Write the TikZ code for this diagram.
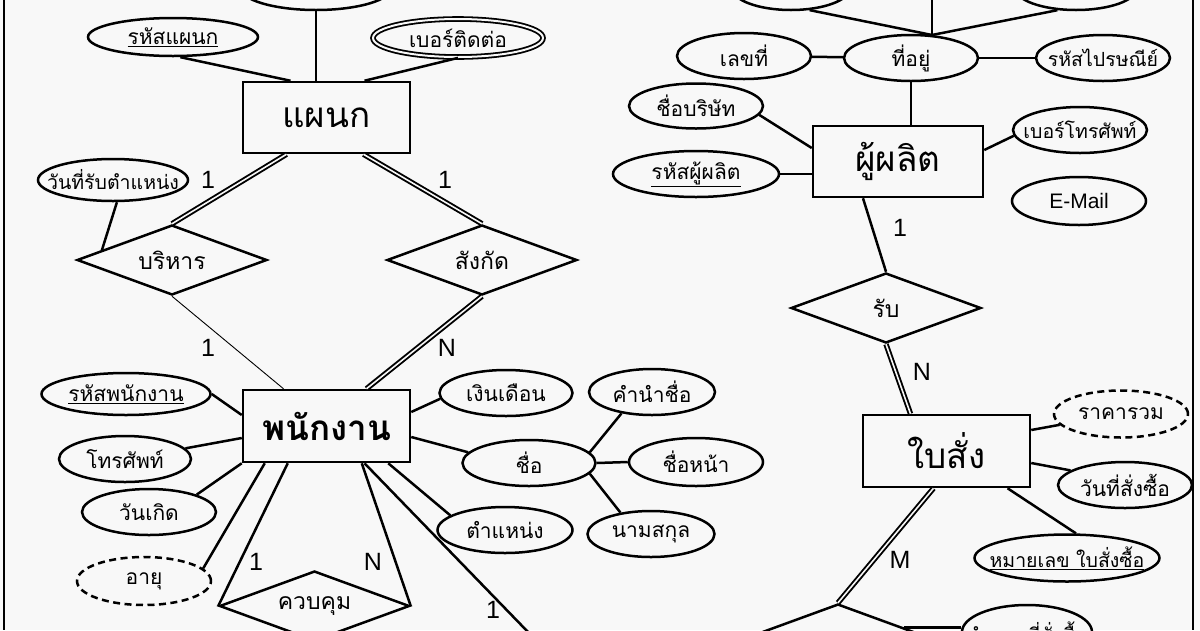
\documentclass[tikz,border=0pt]{standalone}
\usepackage{fontspec}
\newfontfamily\thai[Script=Thai]{Loma}
\newfontfamily\lat{Liberation Sans}
\usetikzlibrary{shapes.geometric}
\definecolor{bg}{RGB}{248,248,248}
\newcommand\zw[1]{\makebox[0pt]{#1}}
\begin{document}
\begin{tikzpicture}[x=1pt,y=-1pt,
  attr/.style={ellipse, draw, line width=2.5pt, inner sep=0pt, fill=bg,
    font=\thai\fontsize{21}{23}\selectfont},
  dashattr/.style={attr, dashed, dash pattern=on 7pt off 4.5pt},
  dblattr/.style={attr, double=bg, double distance=2pt, line width=1.8pt},
  ent/.style={rectangle, draw, line width=2.5pt, minimum width=167pt, minimum height=71pt,
    inner sep=0pt, fill=bg, font=\thai\fontsize{35}{40}\selectfont},
  rel/.style={diamond, draw, line width=2.5pt, inner sep=0pt, shape aspect=2.7,
    minimum width=190pt, minimum height=70pt, fill=bg, font=\thai\fontsize{23}{25}\selectfont},
  conn/.style={line width=2.5pt},
  dbl/.style={double=bg, double distance=1.6pt, line width=1.9pt},
  thinconn/.style={line width=0.9pt},
  card/.style={font=\lat\fontsize{25}{28}\selectfont, inner sep=0pt},
  frame/.style={line width=2pt}]
\useasboundingbox (0,0) rectangle (1200,630);
\clip (0,0) rectangle (1200,630);
\fill[bg] (0,0) rectangle (1200,630);

% ---------- left upper: department ----------
\node[attr, minimum width=153pt, minimum height=46pt] (topL) at (316,-13) {};
\node[attr, minimum width=170pt, minimum height=38pt] (rhs) at (173,37) {\zw{\underline{รหัสแผนก}}};
\node[dblattr, minimum width=170pt, minimum height=38pt] (tel) at (458,38) {\zw{เบอร์ติดต่อ}};
\node[ent] (dept) at (326.5,117.5) {แผนก};
\node[attr, minimum width=150pt, minimum height=42pt] (since) at (113,180) {\zw{\fontsize{19.5}{22}\selectfont วันที่รับตำแหน่ง}};
\node[rel] (manage) at (172,260) {บริหาร};
\node[rel] (belong) at (482,260) {สังกัด};

\draw[conn] (topL.south) -- (topL.south |- dept.north);
\draw[conn] (rhs.-70) -- ([xshift=-36pt]dept.north);
\draw[conn] (tel.south) -- ([xshift=38pt]dept.north);
\draw[dbl] ([xshift=-40pt]dept.south) -- (manage.north);
\draw[dbl] ([xshift=37pt]dept.south) -- (belong.north);
\draw[conn] (since.-80) -- (manage.172);
\node[card] (c1) at (208,180) {1};
\node[card] (c2) at (445,180) {1};

% ---------- employee ----------
\node[ent, font=\thai\bfseries\fontsize{35}{40}\selectfont, minimum height=72pt] (emp) at (326.5,426) {พนักงาน};
\draw[thinconn] (manage.south) -- ([xshift=-43pt]emp.north);
\draw[dbl] (belong.south) -- ([xshift=40pt]emp.north);
\node[card] (c3) at (208,348) {1};
\node[card] (c4) at (447,348) {N};

\node[attr, minimum width=169pt, minimum height=42pt] (empid) at (126,394) {\zw{\underline{รหัสพนักงาน}}};
\node[attr, minimum width=132pt, minimum height=46pt] (phone) at (125,459) {\zw{โทรศัพท์}};
\node[attr, minimum width=134pt, minimum height=46pt] (bday) at (149,512) {\zw{วันเกิด}};
\node[dashattr, minimum width=134pt, minimum height=48pt] (age) at (144,581) {\zw{อายุ}};
\node[attr, minimum width=133pt, minimum height=46pt] (salary) at (506,393) {\zw{เงินเดือน}};
\node[attr, minimum width=133pt, minimum height=46pt] (name) at (529,463) {\zw{ชื่อ}};
\node[attr, minimum width=135pt, minimum height=46pt] (pos) at (505,530) {\zw{ตำแหน่ง}};
\node[attr, minimum width=126pt, minimum height=46pt] (title) at (652,392) {\zw{คำนำชื่อ}};
\node[attr, minimum width=134pt, minimum height=48pt] (first) at (696,462) {\zw{ชื่อหน้า}};
\node[attr, minimum width=127pt, minimum height=46pt] (last) at (651,534) {\zw{นามสกุล}};

\draw[conn] (empid.east) -- ([yshift=11pt]emp.west);
\draw[conn] (phone.10) -- ([yshift=-12pt]emp.west);
\draw[conn] (bday.20) -- (emp.south west);
\draw[conn] (age.12) -- ([xshift=23pt]emp.south west);
\draw[conn] (salary.185) -- ([yshift=14pt]emp.east);
\draw[conn] (name.170) -- ([yshift=-11pt]emp.east);
\draw[conn] (pos.165) -- ([xshift=-23pt]emp.south east);
\draw[conn] (name.10) -- (title.-145);
\draw[conn] (name.east) -- (first.west);
\draw[conn] (name.-10) -- (last.145);

\node[rel] (ctrl) at (314.5,606) {ควบคุม};
\draw[conn] ([xshift=46pt]emp.south west) -- (ctrl.west);
\draw[conn] ([xshift=120pt]emp.south west) -- (ctrl.east);
\node[card] (c5) at (256,562) {1};
\node[card] (c6) at (373,562) {N};
\coordinate (offrel) at (560,665);
\draw[conn] ([xshift=38pt]emp.south) -- (offrel);
\node[card] (c7) at (493,610) {1};

% ---------- maker ----------
\node[attr, minimum width=118pt, minimum height=44pt] (topR1) at (791,-12) {};
\node[attr, minimum width=122pt, minimum height=44pt] (topR2) at (1076,-12) {};
\coordinate (topR0) at (932,-30);
\node[attr, minimum width=134pt, minimum height=46pt] (no) at (744,56) {\zw{เลขที่}};
\node[attr, minimum width=134pt, minimum height=46pt] (addr) at (911,58) {\zw{ที่อยู่}};
\node[attr, minimum width=134pt, minimum height=46pt] (zip) at (1103,58) {\zw{\fontsize{19.5}{22}\selectfont รหัสไปรษณีย์}};
\coordinate (addrtop) at (932,35);
\draw[conn] (topR0) -- (addrtop);
\draw[conn] (topR1.-50) -- (addrtop);
\draw[conn] (topR2.-130) -- (addrtop);
\draw[conn] (no) -- (addr);
\draw[conn] (addr) -- (zip);

\node[ent, minimum width=170pt] (maker) at (898,161.5) {ผู้ผลิต};
\node[attr, minimum width=134pt, minimum height=45pt] (company) at (696,106) {\zw{ชื่อบริษัท}};
\node[attr, minimum width=166pt, minimum height=46pt] (makerid) at (696,174) {\zw{\underline{รหัสผู้ผลิต}}};
\node[attr, minimum width=134pt, minimum height=46pt] (mtel) at (1080,130) {\zw{\fontsize{19.5}{22}\selectfont เบอร์โทรศัพท์}};
\node[attr, minimum width=134pt, minimum height=48pt, font=\lat\fontsize{21}{24}\selectfont] (email) at (1079,201) {\zw{E-Mail}};
\draw[conn] (addr.south) -- (addr.south |- maker.north);
\draw[conn] (company.-8) -- ([yshift=13.5pt]maker.west);
\draw[conn] (makerid.east) -- (makerid.east -| maker.west);
\draw[conn] (mtel.185) -- ([yshift=11.5pt]maker.east);

\node[rel] (receive) at (886,308) {รับ};
\draw[conn] ([xshift=-35pt]maker.south) -- (receive.north);
\node[card] (c8) at (900,228) {1};

% ---------- order ----------
\node[ent, minimum height=72pt] (order) at (946.5,451) {ใบสั่ง};
\draw[dbl] (receive.south) -- ([xshift=-36pt]order.north);
\node[card] (c9) at (922,372) {N};
\node[dashattr, minimum width=134pt, minimum height=47pt] (total) at (1121,414) {\zw{ราคารวม}};
\node[attr, minimum width=134pt, minimum height=46pt] (odate) at (1125,485) {\zw{วันที่สั่งซื้อ}};
\node[attr, minimum width=185pt, minimum height=47pt] (orderno) at (1067,558) {\zw{\fontsize{19.5}{22}\selectfont\underline{หมายเลข ใบสั่งซื้อ}}};
\draw[conn] ([yshift=21pt]order.east) -- (total.190);
\draw[conn] ([yshift=-12pt]order.east) -- (odate.165);
\draw[conn] ([xshift=61pt]order.south) -- (orderno.70);

\node[rel] (buy) at (838,639) {};
\node[attr, minimum width=130pt, minimum height=54pt] (qty) at (1027,632) {\zw{\fontsize{19.5}{22}\selectfont จำนวนที่สั่งซื้อ}};
\draw[dbl] ([xshift=-13pt]order.south) -- (buy.north);
\draw[conn] (buy.10) -- (buy.10 -| qty.west);
\node[card] (c10) at (900,560) {M};

% ---------- frame ----------
\coordinate (fl0) at (4,0);
\coordinate (fl1) at (4,630);
\coordinate (fr0) at (1193,0);
\coordinate (fr1) at (1193,630);
\draw[frame] (fl0) -- (fl1);
\draw[frame] (fr0) -- (fr1);
\end{tikzpicture}
\end{document}
